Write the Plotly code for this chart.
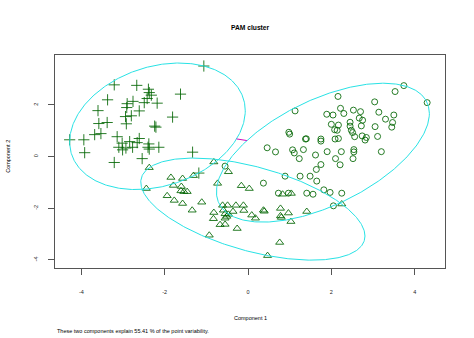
import numpy as np
import plotly.graph_objects as go

# ---- data (component scores) ----
c1_x = [-1.06,-3.21,-2.67,-2.39,-2.37,-2.32,-1.62,-3.37,-2.42,-2.49,-2.76,-2.90,-2.18,-2.91,-3.60,-2.61,
        -2.80,-2.94,-1.81,-3.58,-3.38,-2.92,-2.24,-2.21,-3.68,-3.53,-3.14,-4.28,-3.94,-2.61,-2.84,-3.02,
        -2.66,-2.38,-3.10,-2.93,-2.77,-2.40,-2.37,-2.14,-3.01,-3.92,-2.54,-1.33,-3.21,-1.18]
c1_y = [3.51,2.78,2.76,2.61,2.48,2.38,2.42,2.20,2.25,2.09,2.14,2.05,2.07,1.90,1.78,1.77,
        1.58,1.55,1.53,1.28,1.32,1.27,1.18,1.14,0.85,0.89,0.77,0.65,0.65,0.70,0.58,0.52,
        0.54,0.49,0.36,0.33,0.36,0.36,0.29,0.36,0.26,0.15,-0.08,0.17,-0.23,-0.64]

c2_x = [3.74,3.53,4.30,2.16,3.04,1.13,2.22,1.89,2.04,2.30,2.53,2.70,3.14,3.50,3.30,2.67,2.75,3.47,
        2.00,2.17,2.45,2.45,2.72,3.05,3.45,2.08,2.14,2.48,2.51,0.98,1.00,1.38,1.40,1.75,1.75,2.09,
        2.17,2.56,2.74,2.84,2.81,3.11,0.46,0.66,1.07,1.11,1.33,1.23,1.62,1.90,2.10,2.24,2.54,2.54,
        2.52,3.20,1.75,2.21,1.64,1.65,1.25,1.49,0.89,0.37,1.82,1.97,2.25,0.73,0.97,1.41,1.56,2.05,-0.55]
c2_y = [2.75,2.52,2.09,2.33,2.12,1.77,1.87,1.64,1.61,1.67,1.80,1.74,1.72,1.61,1.45,1.49,1.41,1.32,
        1.25,1.22,1.33,1.18,1.19,1.16,1.14,1.04,1.02,1.02,0.93,0.94,0.87,0.68,0.69,0.68,0.60,0.68,
        0.70,0.77,0.80,0.74,0.64,0.78,0.34,0.18,0.26,0.14,0.27,-0.08,0.06,0.19,-0.08,0.19,0.27,0.18,
        -0.08,0.19,-0.31,-0.32,-0.50,-0.95,-0.76,-0.76,-0.76,-1.03,-1.29,-1.39,-1.42,-1.42,-1.42,-1.42,-1.46,-1.91,-0.37]

c3_x = [-2.37,-0.82,-0.47,-1.85,-1.57,-1.31,-2.44,-1.79,-1.60,-1.61,-1.54,-1.46,-0.73,-0.16,0.03,
        -1.94,-1.77,-1.57,-1.11,-1.34,-0.61,-0.49,-0.29,-0.11,-0.82,-0.83,-0.59,-0.55,-0.51,-0.55,
        -0.47,-0.36,-0.10,0.09,0.18,0.37,0.39,0.78,0.97,0.78,0.80,1.03,1.41,2.25,-0.67,-0.55,-0.26,
        -0.93,0.76,0.47,0.83,1.04]
c3_y = [-0.43,-0.21,-0.59,-0.81,-0.85,-0.74,-1.24,-1.12,-1.16,-1.33,-1.36,-1.36,-1.04,-1.13,-1.24,
        -1.52,-1.70,-1.82,-1.77,-2.08,-1.89,-1.89,-1.89,-1.89,-2.17,-2.41,-2.08,-2.22,-2.32,-2.39,
        -2.24,-2.13,-2.09,-2.27,-2.39,-2.08,-2.12,-2.01,-2.19,-2.30,-2.36,-2.52,-2.13,-1.84,-2.64,-2.63,-2.79,
        -3.05,-3.33,-3.84,-1.46,-1.43]

x_ticks = [-4, -2, 0, 2, 4]
y_ticks = [-4, -2, 0, 2]
title = "PAM cluster"
x_title = "Component 1"
y_title = "Component 2"
sub_text = "These two components explain 55.41 % of the point variability."

GREEN = "#006400"
CYAN = "#28E2E5"
MAGENTA = "#CD0BBC"
FONT = "Liberation Sans, Arial, sans-serif"


def mvee(P, tol=1e-7, maxit=50000):
    """Minimum volume enclosing ellipse (Khachiyan), like cluster::ellipsoidhull."""
    N, d = P.shape
    Q = np.vstack([P.T, np.ones(N)])
    u = np.ones(N) / N
    for _ in range(maxit):
        X = Q @ np.diag(u) @ Q.T
        M = np.einsum('ij,ji->i', Q.T @ np.linalg.inv(X), Q)
        j = np.argmax(M)
        mx = M[j]
        step = (mx - d - 1) / ((d + 1) * (mx - 1))
        nu = (1 - step) * u
        nu[j] += step
        if np.linalg.norm(nu - u) < tol:
            u = nu
            break
        u = nu
    c = P.T @ u
    A = np.linalg.inv(P.T @ np.diag(u) @ P - np.outer(c, c)) / d
    return c, A


def ellipse_curve(c, A, n=400):
    S = np.linalg.inv(A)
    L = np.linalg.cholesky(S)
    t = np.linspace(0, 2 * np.pi, n)
    pts = c[:, None] + L @ np.vstack([np.cos(t), np.sin(t)])
    return pts[0], pts[1]


clusters = [(c1_x, c1_y, "cross-thin-open", 8),
            (c2_x, c2_y, "circle-open", 6),
            (c3_x, c3_y, "triangle-up-open", 7)]

fig = go.Figure()
ells = []
for cx, cy, sym, sz in clusters:
    fig.add_trace(go.Scatter(x=cx, y=cy, mode="markers",
                             marker=dict(symbol=sym, size=sz, color=GREEN,
                                         line=dict(color=GREEN, width=0.85)),
                             showlegend=False, hoverinfo="skip"))
for cx, cy, sym, sz in clusters:
    P = np.column_stack([cx, cy]).astype(float)
    c, A = mvee(P)
    ells.append((c, A))
    ex, ey = ellipse_curve(c, A)
    fig.add_trace(go.Scatter(x=ex, y=ey, mode="lines", line=dict(color=CYAN, width=1),
                             showlegend=False, hoverinfo="skip"))

# segment between boundaries of ellipses 1 and 2 along the line joining centres
(c1, A1), (c2, A2) = ells[0], ells[1]
u = (c2 - c1) / np.linalg.norm(c2 - c1)
p1 = c1 + u / np.sqrt(u @ A1 @ u)
p2 = c2 - u / np.sqrt(u @ A2 @ u)
fig.add_trace(go.Scatter(x=[p1[0], p2[0]], y=[p1[1], p2[1]], mode="lines",
                         line=dict(color=MAGENTA, width=1), showlegend=False, hoverinfo="skip"))

axis_common = dict(showgrid=False, zeroline=False, showline=True, mirror=True,
                   linecolor="#555555", linewidth=1, ticks="outside", ticklen=6,
                   tickcolor="#555555", tickwidth=1,
                   tickfont=dict(family=FONT, size=5.5, color="#222222"))

fig.update_layout(
    width=474, height=338,
    margin=dict(l=55, r=29, t=55, b=70),
    paper_bgcolor="white", plot_bgcolor="white",
    xaxis=dict(range=[-4.632, 4.728], tickvals=x_ticks, ticktext=[str(v) for v in x_ticks],
               ticklabelstandoff=12, **axis_common),
    yaxis=dict(range=[-4.32, 3.937], tickvals=y_ticks, ticktext=[str(v) for v in y_ticks],
               tickangle=-90, ticklabelstandoff=8, **axis_common),
    annotations=[
        dict(text=f"<b>{title}</b>", x=0.5, y=1.128, xref="paper", yref="paper",
             showarrow=False, xanchor="center", yanchor="middle",
             font=dict(family=FONT, size=6.7, color="black")),
        dict(text=x_title, x=0.5, y=-0.234, xref="paper", yref="paper",
             showarrow=False, xanchor="center", yanchor="middle",
             font=dict(family=FONT, size=5.5, color="black")),
        dict(text=sub_text, x=0.0, y=-0.297, xref="paper", yref="paper",
             showarrow=False, xanchor="left", yanchor="middle",
             font=dict(family=FONT, size=5.5, color="black")),
        dict(text=y_title, x=-0.1205, y=0.522, xref="paper", yref="paper",
             showarrow=False, xanchor="center", yanchor="middle", textangle=-90,
             font=dict(family=FONT, size=5.5, color="black")),
    ],
)

fig.write_html("out.html")
